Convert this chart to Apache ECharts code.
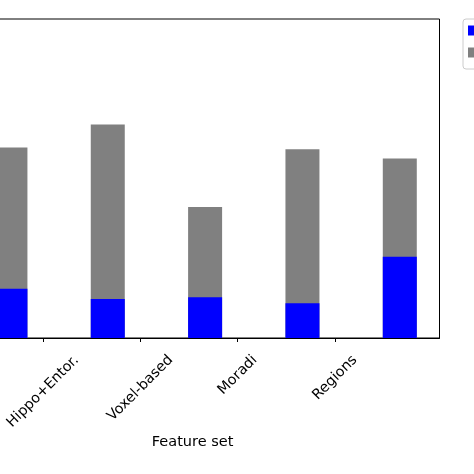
<!DOCTYPE html>
<html>
<head>
<meta charset="utf-8">
<script src="https://cdn.jsdelivr.net/npm/echarts@6/dist/echarts.min.js"></script>
<style>
html,body{margin:0;padding:0;background:#fff;}
#chart{width:474px;height:474px;}
</style>
</head>
<body>
<div id="chart"></div>
<script>
// ---- data ----
const tickLabels = ['Hippo+Entor.', 'Voxel-based', 'Moradi', 'Regions'];
const tickPositions = [1, 2, 3, 4];
const barPositions = [0.665, 1.665, 2.665, 3.665, 4.665];
const blueValues = [0.154, 0.122, 0.128, 0.109, 0.255];
const grayValues = [0.443, 0.547, 0.283, 0.483, 0.308];
const seriesNames = ['Correct', 'Incorrect'];
const xAxisTitle = 'Feature set';

const FONT = 'DejaVu Sans';
const TICK_FS = 14.3;
const X_MIN = 0, X_MAX = 5.073;

const ctx = document.createElement('canvas').getContext('2d');
ctx.font = TICK_FS + 'px "' + FONT + '"';
function labelMargin(t) {
  const L = ctx.measureText(t).width;
  const h = TICK_FS * 1.15;
  return 14 + (L + h) * 0.7071 / 2;
}

const xAxes = [{
  type: 'value', gridIndex: 0, position: 'bottom', min: X_MIN, max: X_MAX,
  axisLine: { show: true, lineStyle: { color: '#000', width: 1 } },
  axisTick: { show: true, length: 4, inside: false, customValues: tickPositions, lineStyle: { color: '#000' } },
  axisLabel: { show: false },
  splitLine: { show: false },
  name: xAxisTitle, nameLocation: 'middle', nameGap: 97,
  nameTextStyle: { fontFamily: FONT, fontSize: 14.5, color: '#000' }
}];
tickLabels.forEach((lab, i) => {
  xAxes.push({
    type: 'value', gridIndex: 0, position: 'bottom', min: X_MIN, max: X_MAX,
    axisLine: { show: false }, axisTick: { show: false }, splitLine: { show: false },
    axisLabel: {
      show: true, customValues: [tickPositions[i]], rotate: 45,
      align: 'center', verticalAlign: 'middle',
      margin: labelMargin(lab),
      fontFamily: FONT, fontSize: TICK_FS, color: '#000',
      formatter: () => lab
    }
  });
});

// gray segment sits on top of the blue one: draw the total behind, blue in front
const totalData = barPositions.map((x, i) => [x, +(blueValues[i] + grayValues[i]).toFixed(4)]);
const blueData = barPositions.map((x, i) => [x, blueValues[i]]);

const chart = echarts.init(document.getElementById('chart'), null, { renderer: 'canvas' });
chart.setOption({
  animation: false,
  backgroundColor: '#fff',
  grid: {
    left: -54.3, right: 34.5, top: 19, bottom: 136,
    outerBoundsMode: 'none', containLabel: false,
    show: true, borderColor: '#000', borderWidth: 1, backgroundColor: 'transparent'
  },
  legend: {
    orient: 'vertical', left: 463, top: 19,
    padding: [5, 5, 10, 5], itemGap: 9, itemWidth: 20, itemHeight: 10,
    icon: 'rect', borderColor: '#cccccc', borderWidth: 1, borderRadius: 3,
    textStyle: { fontFamily: FONT, fontSize: 13, color: '#000' },
    data: seriesNames
  },
  xAxis: xAxes,
  yAxis: {
    type: 'value', min: 0, max: 1,
    axisLine: { show: true, lineStyle: { color: '#000' } },
    axisTick: { show: true },
    axisLabel: { show: true, fontFamily: FONT, fontSize: TICK_FS, color: '#000' },
    splitLine: { show: false }
  },
  series: [
    { name: seriesNames[1], type: 'bar', xAxisIndex: 0, barWidth: 34, barGap: '-100%', z: 2,
      itemStyle: { color: '#808080' }, data: totalData },
    { name: seriesNames[0], type: 'bar', xAxisIndex: 0, barWidth: 34, barGap: '-100%', z: 3,
      itemStyle: { color: '#0000ff' }, data: blueData }
  ]
});
</script>
</body>
</html>
